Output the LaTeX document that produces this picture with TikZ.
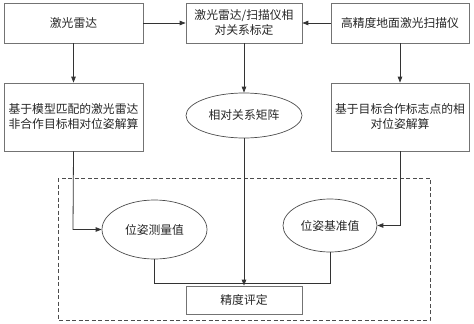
\documentclass[tikz,border=0pt]{standalone}
\usepackage{fontspec}
\newfontfamily\cjk{Noto Sans CJK SC}
\usetikzlibrary{arrows.meta,shapes.geometric}
\begin{document}
\begin{tikzpicture}[x=1pt,y=-1pt,
  every node/.style={font=\cjk\fontsize{11.8pt}{15pt}\selectfont, text=black!85, inner sep=0pt},
  box/.style={draw=black!55, line width=0.7pt, rectangle},
  multi/.style={align=center, text width=#1},
  ell/.style={draw=black!70, line width=0.7pt, ellipse},
  conn/.style={draw=black!80, line width=0.8pt},
  arr/.style={conn, -{Triangle[length=6pt,width=4.5pt]}}
]
\useasboundingbox (0,0) rectangle (474,324);
\node[box, minimum width=139pt, minimum height=40pt] (b1) at (73.5,23) {激光雷达};
\node[box, multi=112pt, minimum width=116pt, minimum height=40pt] (b2) at (244,23) {激光雷达/扫描仪相\\对关系标定};
\node[box, minimum width=138pt, minimum height=40pt] (b3) at (400,23) {高精度地面激光扫描仪};
\node[box, multi=135pt, minimum width=139pt, minimum height=68pt] (b4) at (73.5,117) {基于模型匹配的激光雷达\\非合作目标相对位姿解算};
\node[ell, minimum width=116pt, minimum height=45pt] (e1) at (244,115.5) {相对关系矩阵};
\node[box, multi=134pt, minimum width=138pt, minimum height=68pt] (b6) at (400,117) {基于目标合作标志点的相\\对位姿解算};
\draw[black!70, line width=0.7pt, dash pattern=on 4pt off 2.5pt] (58,178) rectangle (430,320);
\node[ell, minimum width=105pt, minimum height=59pt] (m) at (154.5,229.5) {位姿测量值};
\node[ell, minimum width=94pt, minimum height=53pt] (r) at (330,225.5) {位姿基准值};
\node[box, minimum width=116pt, minimum height=28pt] (ev) at (244,300) {精度评定};
\coordinate (c1) at (73,229.5);
\coordinate (c2) at (400,225.5);
\coordinate (c3) at (154.5,283);
\coordinate (c4) at (330,283);
\draw[arr] (b1.south) -- (b4.north);
\draw[arr] (b1.east) -- (b2.west);
\draw[arr] (b3.west) -- (b2.east);
\draw[arr] (b2.south) -- (e1.north);
\draw[arr] (b3.south) -- (b6.north);
\draw[arr] (b4.south) -- (c1) -- (m.west);
\draw[arr] (b6.south) -- (c2) -- (r.east);
\draw[conn] (m.south) -- (c3) -- (c4) -- (r.south);
\draw[arr] (e1.south) -- (ev.north);
\end{tikzpicture}
\end{document}
